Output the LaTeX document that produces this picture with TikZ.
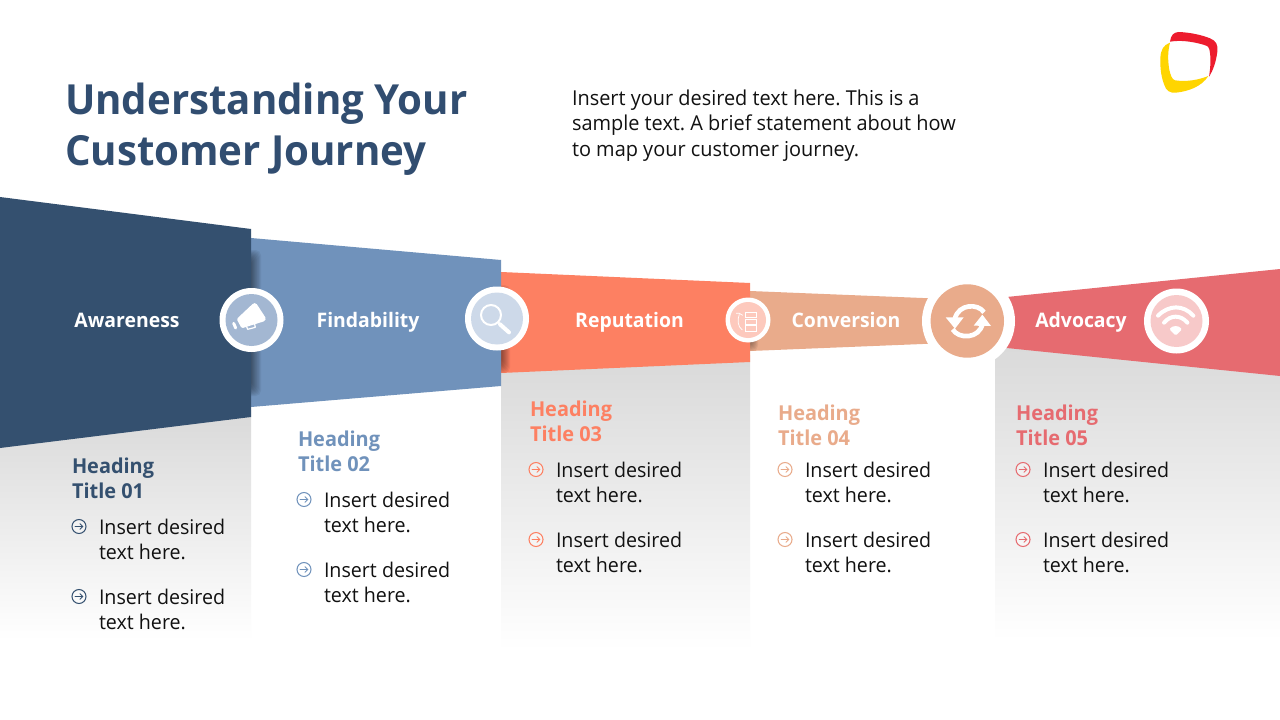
\documentclass[tikz,border=0pt]{standalone}
\usepackage{fontspec}
\setmainfont[FakeStretch=0.97]{Open Sans}
\frenchspacing
\definecolor{navy}{HTML}{34506F}
\definecolor{titleblue}{HTML}{314D70}
\definecolor{steel}{HTML}{7092BB}
\definecolor{coral}{HTML}{FD8062}
\definecolor{peach}{HTML}{E9AB8B}
\definecolor{rose}{HTML}{E66B70}
\definecolor{ink}{HTML}{111111}
\definecolor{band}{HTML}{D9D9D9}
\definecolor{discnavy}{HTML}{A3B7D2}
\definecolor{discsteel}{HTML}{CDD9E9}
\definecolor{disccoral}{HTML}{FDC9BD}
\definecolor{discrose}{HTML}{F7C9C9}
\definecolor{logored}{HTML}{ED1C2E}
\definecolor{logoyellow}{HTML}{FFD500}
\tikzset{
  txt/.style={inner sep=0pt,outer sep=0pt,anchor=base west,align=left,text=ink},
  titletxt/.style={txt,text=titleblue,font=\fontsize{31.1}{38.2}\selectfont\bfseries},
  bodytxt/.style={txt,font=\fontsize{15.4}{19.3}\selectfont},
  bullettxt/.style={txt,font=\fontsize{15.2}{18.75}\selectfont},
  headtxt/.style={txt,font=\fontsize{15.4}{18.75}\selectfont\bfseries},
  stagetxt/.style={inner sep=0pt,outer sep=0pt,anchor=base,text=white,font=\fontsize{15}{18}\selectfont\bfseries},
  grayband/.style={top color=band,bottom color=white,draw=none},
  zoomed/.style={x=.25pt,y=-.25pt},
  iconline/.style={draw=white,line cap=round,line join=round},
}
% soft shadow falling to the right of an edge
\newcommand{\edgeshadow}[4]{%
  \begin{scope}
    \clip (#1,#2-30) rectangle (#1+30,#3+30);
    \foreach \i in {1,...,9}{
      \fill[black,opacity=.055,rounded corners=4pt]
        (#1-15,#2+9-\i) rectangle (#1+#4*\i/9,#3-9+\i);
    }
  \end{scope}}
% one bullet marker
\newcommand{\bulletmark}[3]{%
  \draw[#3,line width=.8pt,fill=white,fill opacity=.35] (#1,#2) circle[radius=7];
  \draw[#3,line width=.7pt,line cap=round,line join=round]
    (#1-3.8,#2) -- (#1+3.8,#2) (#1+.9,#2-2.8) -- (#1+3.8,#2) -- (#1+.9,#2+2.8);}
% one column of text: id, colour, heading x, heading y, bullet x, first bullet y, heading number
\newcommand{\columntext}[7]{%
  \node[headtxt,text=#2] (head#1) at (#3,#4+25) {Heading\\Title #7};
  \node[bullettxt] (one#1) at (#5,#6+25) {Insert desired\\text here.};
  \node[bullettxt] (two#1) at (#5,#6+95) {Insert desired\\text here.};
  \bulletmark{#5-20}{#6-7.5}{#2}
  \bulletmark{#5-20}{#6+62.5}{#2}}
\begin{document}
\begin{tikzpicture}[x=.75pt,y=-.75pt]
\useasboundingbox (0,0) rectangle (1280,720);
\fill[white] (0,0) rectangle (1280,720);

% grey gradient panels
\shade[grayband] (0,410) rectangle (251,640);
\shade[grayband] (501,355) rectangle (750,650);
\shade[grayband] (995,340) rectangle (1280,640);

% ribbon segments
\fill[rose] (995,298.2) -- (1280,269) -- (1280,376) -- (995,346.8) -- cycle;
\fill[peach] (750,291) -- (935,298.5) -- (935,343.5) -- (750,351) -- cycle;
\edgeshadow{750}{300}{351}{8}
\fill[coral] (501,272) -- (750,283) -- (750,362) -- (501,373) -- cycle;
\edgeshadow{501}{285}{373}{9}
\fill[steel] (251,238) -- (501,260) -- (501,386) -- (251,407) -- cycle;
\edgeshadow{251}{250}{396}{10}
\fill[navy] (0,197) -- (251,229) -- (251,417) -- (0,448) -- cycle;

% icon discs
\fill[white] (251.5,320) circle[radius=32];
\fill[discnavy] (251.5,320) circle[radius=26];
\fill[white] (497,318.5) circle[radius=32];
\fill[discsteel] (497,318.5) circle[radius=26];
\fill[white] (748,320) circle[radius=22.5];
\fill[disccoral] (748,320) circle[radius=18];
\fill[white] (968.5,321) circle[radius=46.5];
\fill[peach] (967.3,321) circle[radius=36.7];
\fill[white] (1176.5,321) circle[radius=32.5];
\fill[discrose] (1176.5,321) circle[radius=26];

% megaphone
\begin{scope}[shift={(200,220)},zoomed]
  \fill[white,rounded corners=1pt] (110,297) -- (160,250) -- (168,249) -- (198,295) -- (195,303) -- (125,325) -- cycle;
  \draw[iconline,line width=.9pt] (140,320) -- (143,328) -- (166,322) -- (164,313);
  \draw[iconline,line width=2.2pt] (101,310) -- (107,324);
\end{scope}
% magnifier
\begin{scope}[shift={(200,220)},zoomed]
  \draw[white,line width=1.5pt] (873,285) circle[radius=30];
  \draw[iconline,line width=3pt] (900,313) -- (927,337);
  \draw[iconline,line width=1.2pt] (895,307) -- (903,315);
\end{scope}
% list with return arrow
\begin{scope}[shift={(700,260)},zoomed]
  \draw[white,line width=.55pt] (137,157) rectangle (170,173) (137,177) rectangle (170,193) (137,197) rectangle (170,213);
  \draw[white,line width=.55pt] (127,210) .. controls (112,200) and (112,178) .. (118,163);
  \draw[white,line width=.55pt] (108,160) -- (118,160) -- (128,166);
\end{scope}
% sync arrows
\begin{scope}[shift={(700,260)},zoomed]
  \draw[white,line width=3.5pt] (852,157) .. controls (835,130) and (775,130) .. (764,178);
  \fill[white] (737,172) -- (791,172) -- (765,206) -- cycle;
  \draw[white,line width=3.5pt] (758,208) .. controls (775,238) and (838,238) .. (848,190);
  \fill[white] (821,197) -- (873,198) -- (847,164) -- cycle;
\end{scope}
% wifi
\begin{scope}[shift={(1130,280)},zoomed]
  \draw[iconline,line width=3pt] (84,107) .. controls (117,74) and (160,74) .. (190,107);
  \draw[iconline,line width=3pt] (102,128) .. controls (122,104) and (152,104) .. (172,128);
  \fill[white,rounded corners=1pt] (118,148) .. controls (128,136) and (146,136) .. (156,148) -- (137,167) -- cycle;
\end{scope}

% logo
\begin{scope}[shift={(1130,20)},zoomed]
  \fill[logored] (120,65) .. controls (123,45) and (130,38) .. (145,36) .. controls (180,37) and (215,45) .. (240,55)
     .. controls (258,62) and (265,75) .. (262,95) .. controls (258,125) and (250,150) .. (237,170)
     .. controls (242,140) and (243,110) .. (238,88) .. controls (235,78) and (228,76) .. (220,74)
     .. controls (185,64) and (150,60) .. (120,65) -- cycle;
  \fill[logoyellow] (120,68) .. controls (100,75) and (92,90) .. (91,115) .. controls (90,150) and (95,175) .. (103,195)
     .. controls (108,212) and (120,220) .. (138,218) .. controls (175,214) and (215,200) .. (235,168)
     .. controls (205,180) and (170,186) .. (135,181) .. controls (125,178) and (122,165) .. (118,150)
     .. controls (113,120) and (113,95) .. (120,68) -- cycle;
\end{scope}

% stage labels
\node[stagetxt] (awareness) at (127,327.2) {Awareness};
\node[stagetxt] (findability) at (368,327.2) {Findability};
\node[stagetxt] (reputation) at (629.5,327.2) {Reputation};
\node[stagetxt] (conversion) at (846,327.2) {Conversion};
\node[stagetxt] (advocacy) at (1081,327.2) {Advocacy};

% header
\node[titletxt] (title) at (65,165.7) {Understanding Your\\Customer Journey};
\node[bodytxt] (intro) at (572,156.5) {Insert your desired text here. This is a\\sample text. A brief statement about how\\to map your customer journey.};

% columns
\columntext{1}{navy}{72}{473}{99}{534}{01}
\columntext{2}{steel}{298}{446}{324}{507}{02}
\columntext{3}{coral}{530}{416}{556}{477}{03}
\columntext{4}{peach}{778}{420}{805}{477}{04}
\columntext{5}{rose}{1016}{420}{1043}{477}{05}
\end{tikzpicture}
\end{document}
